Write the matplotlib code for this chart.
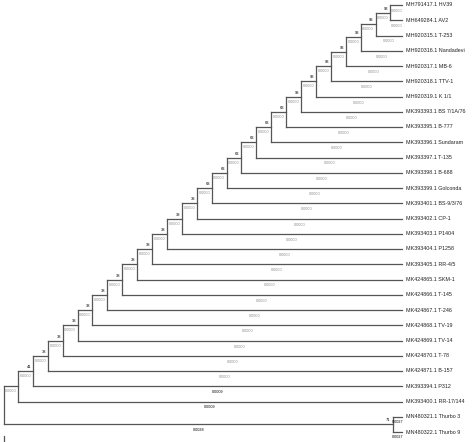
import matplotlib
matplotlib.use("Agg")
import matplotlib.pyplot as plt

leaves = ["MH791417.1 HV39", "MH649284.1 AV2", "MH920315.1 T-253", "MH920316.1 Nandadevi",
          "MH920317.1 MB-6", "MH920318.1 TTV-1", "MH920319.1 K 1/1", "MK393393.1 BS 7/1A/76",
          "MK393395.1 B-777", "MK393396.1 Sundaram", "MK393397.1 T-135", "MK393398.1 B-688",
          "MK393399.1 Golconda", "MK393401.1 BS-9/3/76", "MK393402.1 CP-1", "MK393403.1 P1404",
          "MK393404.1 P1258", "MK393405.1 RR-4/5", "MK424865.1 SKM-1", "MK424866.1 T-145",
          "MK424867.1 T-246", "MK424868.1 TV-19", "MK424869.1 TV-14", "MK424870.1 T-78",
          "MK424871.1 B-157", "MK393394.1 P312", "MK393400.1 RR-17/144"]
outgroup = ["MN480321.1 Thurbo 3", "MN480322.1 Thurbo 9"]
# bootstrap for caterpillar nodes, from the innermost (HV39/AV2) outward
bootstrap = [93, 93, 93, 93, 93, 93, 93, 63, 63, 63, 63, 63, 63, 38, 38, 38, 38, 38, 38, 38,
             38, 38, 38, 38, 41, None]
leaf_len = ["0.0000"] * 25 + ["0.0009", "0.0009"]
out_len = ["0.0027", "0.0027"]
out_boot = 71
root_out_len = "0.0028"

plt.rcParams['font.family'] = ['Liberation Sans', 'DejaVu Sans']
fig = plt.figure(figsize=(4.74, 4.42), dpi=100)
ax = fig.add_axes([0, 0, 1, 1])
ax.set_xlim(0, 474); ax.set_ylim(442, 0); ax.axis("off")

LC = "#555555"; GC = "#8a8a8a"
xr, xend, step = 4, 402, 14.9
n = len(leaves) + len(outgroup)
ys = [5 + i * (432 - 5) / (n - 1) for i in range(n)]
nn = len(leaves) - 1
nodex = [18 + step * (nn - 1 - k) for k in range(nn)]

def lab(x, y, s, c=GC):
    ax.text(x, y, s, fontsize=2.7, color=c, ha="center", va="center")

ny = (ys[0] + ys[1]) / 2
for i in (0, 1):
    ax.plot([nodex[0], xend], [ys[i], ys[i]], color=LC, lw=0.9)
    lab((nodex[0] + xend) / 2, ys[i] + 6, leaf_len[i])
ax.plot([nodex[0], nodex[0]], [ys[0], ys[1]], color=LC, lw=0.9)
nys = [ny]
for k in range(1, nn):
    li = k + 1
    x = nodex[k]
    ax.plot([x, xend], [ys[li], ys[li]], color=LC, lw=0.9)
    c = "black" if leaf_len[li] != "0.0000" else GC
    lab((x + xend) / 2, ys[li] + 6, leaf_len[li], c)
    ax.plot([x, x], [nys[-1], ys[li]], color=LC, lw=0.9)
    ax.plot([x, nodex[k - 1]], [nys[-1], nys[-1]], color=LC, lw=0.9)
    lab((x + nodex[k - 1]) / 2, nys[-1] + 5, "0.0000")
    nys.append((nys[-1] + ys[li]) / 2)
for k in range(nn):
    b = bootstrap[k]
    if b is not None:
        ax.text(nodex[k] - 4, nys[k] - 4, str(b), fontsize=2.9, color="black", ha="center", va="center")

ox = 393
oy = (ys[-2] + ys[-1]) / 2
for j, i in enumerate((n - 2, n - 1)):
    ax.plot([ox, xend], [ys[i], ys[i]], color=LC, lw=0.9)
    lab(ox + 5, ys[i] + 5, out_len[j], "black")
ax.plot([ox, ox], [ys[-2], ys[-1]], color=LC, lw=0.9)
ax.text(ox - 5, oy - 4, str(out_boot), fontsize=2.9, color="black", ha="center", va="center")
ax.plot([xr, nodex[-1]], [nys[-1], nys[-1]], color=LC, lw=0.9)
lab((xr + nodex[-1]) / 2, nys[-1] + 5, "0.0000")
ax.plot([xr, ox], [oy, oy], color=LC, lw=0.9)
lab((xr + ox) / 2, oy + 6, root_out_len, "black")
ax.plot([xr, xr], [nys[-1], oy], color=LC, lw=0.9)
ax.plot([xr, xr], [436, 442], color=LC, lw=0.9)

for i, s in enumerate(leaves + outgroup):
    ax.text(406, ys[i], s, fontsize=3.9, color="#222222", ha="left", va="center")

fig.savefig("out.png", dpi=100)
